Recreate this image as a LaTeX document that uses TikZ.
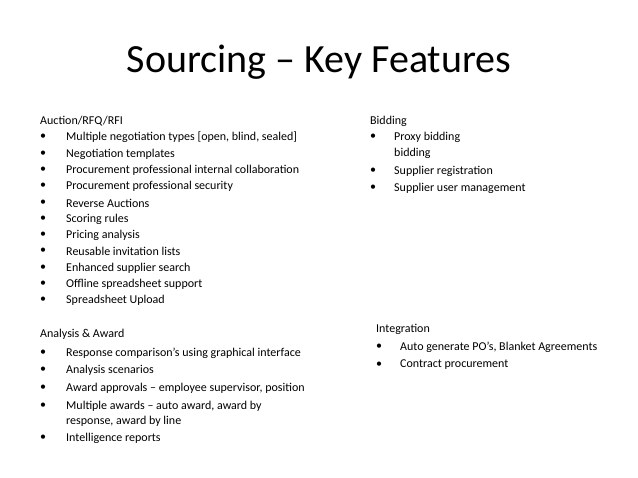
\documentclass[tikz,border=0pt]{standalone}
\usepackage{fontspec}
\setmainfont{Carlito}
\begin{document}
\begin{tikzpicture}[x=1pt,y=-1pt,
  txt/.style={anchor=west,inner sep=0pt,font=\fontsize{12}{14}\selectfont},
  bul/.style={anchor=west,inner sep=0pt,font=\fontsize{12}{14}\selectfont}]
\useasboundingbox[fill=white] (0,0) rectangle (638,478);
\node[inner sep=0pt,font=\fontsize{40}{44}\selectfont] (title) at (319,62) {Sourcing – Key Features};
% left column
\node[txt] (auc) at (40,121) {Auction/RFQ/RFI};
\foreach \y/\t [count=\i] in {137/{Multiple negotiation types [open, blind, sealed]},154/Negotiation templates,170/Procurement professional internal collaboration,186/Procurement professional security,203/Reverse Auctions,219/Scoring rules,235/Pricing analysis,251/Reusable invitation lists,268/Enhanced supplier search,284/Offline spreadsheet support,300/Spreadsheet Upload}{
  \node[bul] (ab\i) at (40,\y) {•};
  \node[txt] (at\i) at (66,\y) {\t};
}
\node[txt] (ana) at (40,334) {Analysis \& Award};
\foreach \y/\t [count=\i] in {353/Response comparison’s using graphical interface,370/Analysis scenarios,388/{Award approvals – employee supervisor, position},406/{Multiple awards – auto award, award by},438/Intelligence reports}{
  \node[bul] (nb\i) at (40,\y) {•};
  \node[txt] (nt\i) at (66,\y) {\t};
}
\node[txt] (nt4b) at (66,421) {response, award by line};
% right column
\node[txt] (bid) at (370,121) {Bidding};
\foreach \y/\t [count=\i] in {137/Proxy bidding/power bidding/surrogate,171/Supplier registration,188/Supplier user management}{
  \node[bul] (bb\i) at (370,\y) {•};
  \node[txt] (bt\i) at (394,\y) {\t};
}
\node[txt] (bt1b) at (394,153) {bidding};
\node[txt] (int) at (376,329) {Integration};
\foreach \y/\t [count=\i] in {347/{Auto generate PO’s, Blanket Agreements},365/Contract procurement}{
  \node[bul] (ib\i) at (376,\y) {•};
  \node[txt] (it\i) at (400,\y) {\t};
}
\end{tikzpicture}
\end{document}
